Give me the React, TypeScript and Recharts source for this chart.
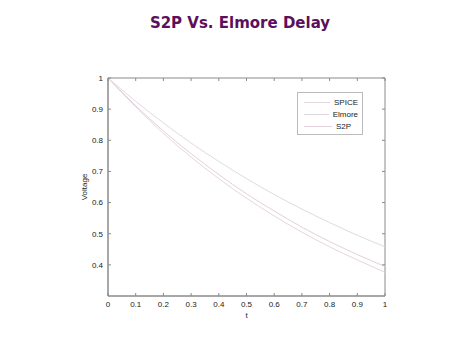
import { Label, Legend, Line, LineChart, ReferenceArea, XAxis, YAxis } from "recharts";

const W = 474;
const H = 355;
const PLOT_LEFT = 108;
const PLOT_RIGHT = 385;
const PLOT_TOP = 78;
const PLOT_BOTTOM = 296;
const Y_AXIS_W = 30;
const X_AXIS_H = 30;

const T = [0, 0.1, 0.2, 0.3, 0.4, 0.5, 0.6, 0.7, 0.8, 0.9, 1];
const SPICE = [1, 0.907, 0.822, 0.746, 0.677, 0.614, 0.557, 0.505, 0.458, 0.416, 0.376];
const ELMORE = [1, 0.925, 0.856, 0.791, 0.732, 0.677, 0.626, 0.579, 0.536, 0.495, 0.458];
const S2P = [1, 0.911, 0.83, 0.757, 0.69, 0.628, 0.573, 0.521, 0.475, 0.433, 0.395];

const X_TICKS = [0, 0.1, 0.2, 0.3, 0.4, 0.5, 0.6, 0.7, 0.8, 0.9, 1];
const Y_TICKS = [0.4, 0.5, 0.6, 0.7, 0.8, 0.9, 1];

const SERIES = [
	{ key: "spice", name: "SPICE", color: "#e6d6dd" },
	{ key: "elmore", name: "Elmore", color: "#e0d9e3" },
	{ key: "s2p", name: "S2P", color: "#e4d0da" },
];

const data = T.map((t, i) => ({ t, spice: SPICE[i], elmore: ELMORE[i], s2p: S2P[i] }));

const font = "'Liberation Sans', Arial, sans-serif";
const axisGrey = "#8a8a8a";

function XTick({ x, y, payload }: any) {
	return (
		<g>
			<line x1={x} x2={x} y1={PLOT_BOTTOM} y2={PLOT_BOTTOM - 3} stroke={axisGrey} />
			<line x1={x} x2={x} y1={PLOT_TOP} y2={PLOT_TOP + 3} stroke={axisGrey} />
			<text x={x} y={y} dy="0.71em" textAnchor="middle" fontSize={8} fill="#222" fontFamily={font}>
				{payload.value}
			</text>
		</g>
	);
}

function YTick({ x, y, payload }: any) {
	return (
		<g>
			<line x1={PLOT_LEFT} x2={PLOT_LEFT + 3} y1={y} y2={y} stroke={axisGrey} />
			<line x1={PLOT_RIGHT} x2={PLOT_RIGHT - 3} y1={y} y2={y} stroke={axisGrey} />
			<text x={x} y={y} dy="0.35em" textAnchor="end" fontSize={8} fill="#222" fontFamily={font}>
				{payload.value}
			</text>
		</g>
	);
}

function LegendBox() {
	return (
		<div
			style={{
				border: "1px solid #bbb",
				background: "#fff",
				padding: "3px 4px 2px 6px",
				fontFamily: font,
				fontSize: 8,
				color: "#222",
			}}
		>
			{SERIES.map((s) => (
				<div key={s.key} style={{ display: "flex", alignItems: "center", height: 12 }}>
					<span style={{ display: "inline-block", width: 28, height: 1, background: s.color, marginRight: 4 }} />
					{s.name}
				</div>
			))}
		</div>
	);
}

export default function App() {
	return (
		<div style={{ position: "absolute", left: 0, top: 0, width: W, height: H, background: "#fff" }}>
			<div
				style={{
					position: "absolute",
					left: 0,
					top: 14,
					width: 480,
					textAlign: "center",
					fontFamily: "'DejaVu Sans', sans-serif",
					fontWeight: "bold",
					fontSize: 15,
					color: "#5c0f5c",
				}}
			>
				S2P Vs. Elmore Delay
			</div>
			<LineChart
				width={W}
				height={H}
				data={data}
				margin={{
					top: PLOT_TOP,
					right: W - PLOT_RIGHT,
					bottom: H - PLOT_BOTTOM - X_AXIS_H,
					left: PLOT_LEFT - Y_AXIS_W,
				}}
			>
				<XAxis
					dataKey="t"
					type="number"
					domain={[0, 1]}
					ticks={X_TICKS}
					height={X_AXIS_H}
					tickSize={0}
					tickMargin={5}
					tick={<XTick />}
					axisLine={{ stroke: axisGrey }}
				>
					<Label value="t" position="insideBottom" offset={8} fontSize={8} fill="#222" fontFamily={font} />
				</XAxis>
				<YAxis
					type="number"
					domain={[0.3, 1]}
					ticks={Y_TICKS}
					width={Y_AXIS_W}
					tickSize={0}
					tickMargin={5}
					tick={<YTick />}
					axisLine={{ stroke: axisGrey }}
				>
					<Label
						value="Voltage"
						angle={-90}
						position="insideLeft"
						offset={6}
						fontSize={8}
						fill="#222"
						fontFamily={font}
						style={{ textAnchor: "middle" }}
					/>
				</YAxis>
				<ReferenceArea x1={0} x2={1} y1={0.3} y2={1} fill="none" stroke={axisGrey} ifOverflow="visible" />
				<Legend
					content={<LegendBox />}
					layout="vertical"
					align="center"
					verticalAlign="middle"
					wrapperStyle={{ left: 297, top: 92, width: 66 }}
				/>
				{SERIES.map((s) => (
					<Line
						key={s.key}
						dataKey={s.key}
						name={s.name}
						type="monotone"
						stroke={s.color}
						strokeWidth={1}
						dot={false}
						isAnimationActive={false}
					/>
				))}
			</LineChart>
		</div>
	);
}
